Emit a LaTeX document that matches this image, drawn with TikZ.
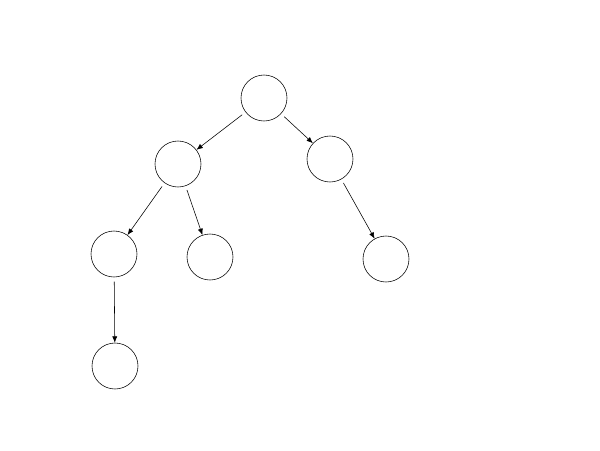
\documentclass[tikz,border=0pt]{standalone}
\usepackage{tikz}
\usetikzlibrary{arrows,arrows.meta,calc}
\tikzset{
    vertex/.style = {draw, circle, thin,
        minimum size=1.15cm, inner sep=0pt},
    arrow/.style={draw, -{Latex[length=4.5pt,width=3.6pt]}, thin, shorten <=3pt}
}

\begin{document}
\begin{tikzpicture}[x=0.025cm,y=-0.025cm]
    \useasboundingbox (0,0) rectangle (600,450);
    % tree nodes
    \node [vertex] (root) at (264,98) {};
    \node [vertex] (l) at (178,164) {};
    \node [vertex] (r) at (330,159) {};
    \node [vertex] (ll) at (114,254) {};
    \node [vertex] (lr) at (210,257) {};
    \node [vertex] (rr) at (386,259) {};
    \node [vertex] (lll) at (115,366) {};
    % edges
    \draw [arrow] (root) -- (l);
    \draw [arrow] (root) -- (r);
    \draw [arrow] (l) -- (ll);
    \draw [arrow] (l) -- (lr);
    \draw [arrow] (r) -- (rr);
    \draw [arrow] (ll) -- (lll);
\end{tikzpicture}
\end{document}
